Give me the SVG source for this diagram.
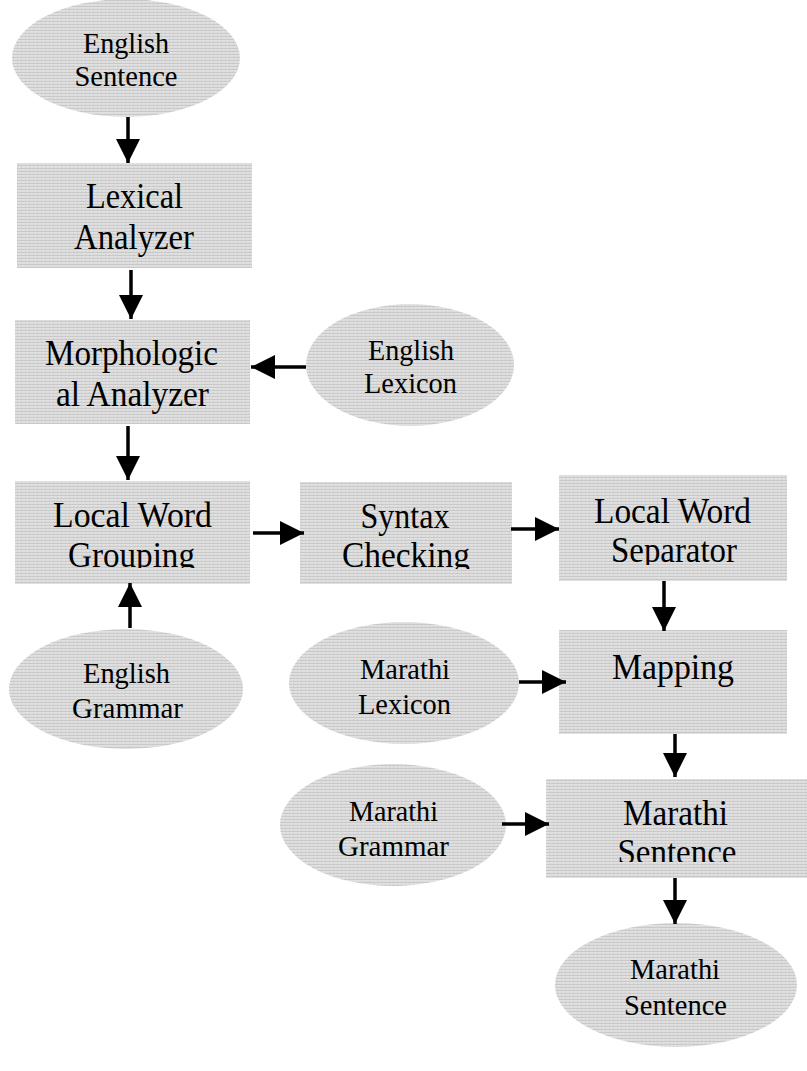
<svg xmlns="http://www.w3.org/2000/svg" width="807" height="1071" viewBox="0 0 807 1071">
<style>
.bg{fill:#ffffff}
.box{fill:url(#tex)}
.ell{fill:url(#tex)}
.bt{font-family:"Liberation Serif","Times New Roman",serif;font-size:35px;fill:#000;text-anchor:middle}
.et{font-family:"Liberation Serif","Times New Roman",serif;font-size:29px;fill:#000;text-anchor:middle}
.conn{stroke:#000;stroke-width:3.5;fill:none;marker-end:url(#ah)}
</style>
<defs>
<pattern id="tex" width="4" height="3" patternUnits="userSpaceOnUse">
<rect width="4" height="3" fill="#e0e0e0"/>
<rect width="4" height="1" fill="#c9c9c9"/>
<rect x="1" y="2" width="1" height="1" fill="#d0d0d0"/>
</pattern>
<marker id="ah" markerUnits="userSpaceOnUse" markerWidth="25" markerHeight="25" refX="24" refY="12" orient="auto">
<path d="M0,0 L24,12 L0,24 Z" fill="#000"/>
</marker>
<clipPath id="cLWG"><rect x="15" y="481" width="235" height="87"/></clipPath>
<clipPath id="cSyn"><rect x="300" y="482" width="212" height="87"/></clipPath>
<clipPath id="cLWS"><rect x="559" y="475" width="228" height="90"/></clipPath>
<clipPath id="cMS"><rect x="546" y="779" width="261" height="83"/></clipPath>
</defs>
<rect class="bg" width="807" height="1071"/>

<g id="english-sentence">
<ellipse class="ell" cx="126" cy="58" rx="114" ry="59"/>
<text class="et" x="126" y="53" textLength="86" lengthAdjust="spacingAndGlyphs">English</text>
<text class="et" x="126" y="86" textLength="103" lengthAdjust="spacingAndGlyphs">Sentence</text>
</g>

<g id="lexical-analyzer">
<rect class="box" x="17" y="163" width="235" height="105"/>
<text class="bt" x="134.5" y="208" textLength="97" lengthAdjust="spacingAndGlyphs">Lexical</text>
<text class="bt" x="134" y="249" textLength="120" lengthAdjust="spacingAndGlyphs">Analyzer</text>
</g>

<g id="morphological-analyzer">
<rect class="box" x="15" y="320" width="235" height="104"/>
<text class="bt" x="131.5" y="365" textLength="173" lengthAdjust="spacingAndGlyphs">Morphologic</text>
<text class="bt" x="132.5" y="406" textLength="153" lengthAdjust="spacingAndGlyphs">al Analyzer</text>
</g>

<g id="english-lexicon">
<ellipse class="ell" cx="410" cy="365" rx="104" ry="61"/>
<text class="et" x="411" y="360" textLength="86" lengthAdjust="spacingAndGlyphs">English</text>
<text class="et" x="410.5" y="393" textLength="93" lengthAdjust="spacingAndGlyphs">Lexicon</text>
</g>

<g id="local-word-grouping">
<rect class="box" x="15" y="481" width="235" height="103"/>
<g clip-path="url(#cLWG)">
<text class="bt" x="132.5" y="527" textLength="159" lengthAdjust="spacingAndGlyphs">Local Word</text>
<text class="bt" x="131.5" y="567" textLength="127" lengthAdjust="spacingAndGlyphs">Grouping</text>
</g>
</g>

<g id="syntax-checking">
<rect class="box" x="300" y="482" width="212" height="102"/>
<g clip-path="url(#cSyn)">
<text class="bt" x="405" y="528" textLength="89" lengthAdjust="spacingAndGlyphs">Syntax</text>
<text class="bt" x="406" y="567" textLength="128" lengthAdjust="spacingAndGlyphs">Checking</text>
</g>
</g>

<g id="local-word-separator">
<rect class="box" x="559" y="475" width="228" height="106"/>
<g clip-path="url(#cLWS)">
<text class="bt" x="672.5" y="523" textLength="157" lengthAdjust="spacingAndGlyphs">Local Word</text>
<text class="bt" x="674" y="562" textLength="126" lengthAdjust="spacingAndGlyphs">Separator</text>
</g>
</g>

<g id="english-grammar">
<ellipse class="ell" cx="126" cy="689" rx="117" ry="60"/>
<text class="et" x="126.5" y="683" textLength="87" lengthAdjust="spacingAndGlyphs">English</text>
<text class="et" x="127.5" y="718" textLength="111" lengthAdjust="spacingAndGlyphs">Grammar</text>
</g>

<g id="marathi-lexicon">
<ellipse class="ell" cx="404" cy="683" rx="115" ry="61"/>
<text class="et" x="405" y="679" textLength="90" lengthAdjust="spacingAndGlyphs">Marathi</text>
<text class="et" x="404.5" y="714" textLength="93" lengthAdjust="spacingAndGlyphs">Lexicon</text>
</g>

<g id="mapping">
<rect class="box" x="559" y="630" width="228" height="104"/>
<text class="bt" x="673" y="679" textLength="122" lengthAdjust="spacingAndGlyphs">Mapping</text>
</g>

<g id="marathi-grammar">
<ellipse class="ell" cx="393" cy="825" rx="113" ry="61"/>
<text class="et" x="393.5" y="821" textLength="89" lengthAdjust="spacingAndGlyphs">Marathi</text>
<text class="et" x="393.5" y="856" textLength="111" lengthAdjust="spacingAndGlyphs">Grammar</text>
</g>

<g id="marathi-sentence-box">
<rect class="box" x="546" y="779" width="261" height="99"/>
<g clip-path="url(#cMS)">
<text class="bt" x="675.5" y="825" textLength="105" lengthAdjust="spacingAndGlyphs">Marathi</text>
<text class="bt" x="677" y="864" textLength="119" lengthAdjust="spacingAndGlyphs">Sentence</text>
</g>
</g>

<g id="marathi-sentence">
<ellipse class="ell" cx="676" cy="985" rx="121" ry="62"/>
<text class="et" x="675" y="979" textLength="90" lengthAdjust="spacingAndGlyphs">Marathi</text>
<text class="et" x="675.5" y="1015" textLength="103" lengthAdjust="spacingAndGlyphs">Sentence</text>
</g>

<g id="connectors">
<line class="conn" x1="128" y1="117" x2="128" y2="163"/>
<line class="conn" x1="131" y1="270" x2="131" y2="319"/>
<line class="conn" x1="306" y1="367" x2="251" y2="367"/>
<line class="conn" x1="128" y1="426" x2="128" y2="480"/>
<line class="conn" x1="130" y1="628" x2="130" y2="583"/>
<line class="conn" x1="253" y1="533" x2="304" y2="533"/>
<line class="conn" x1="511" y1="529" x2="559" y2="529"/>
<line class="conn" x1="664" y1="581" x2="664" y2="631"/>
<line class="conn" x1="519" y1="682" x2="566" y2="682"/>
<line class="conn" x1="675" y1="734" x2="675" y2="777"/>
<line class="conn" x1="502" y1="824" x2="549" y2="824"/>
<line class="conn" x1="675" y1="878" x2="675" y2="924"/>
</g>
</svg>
